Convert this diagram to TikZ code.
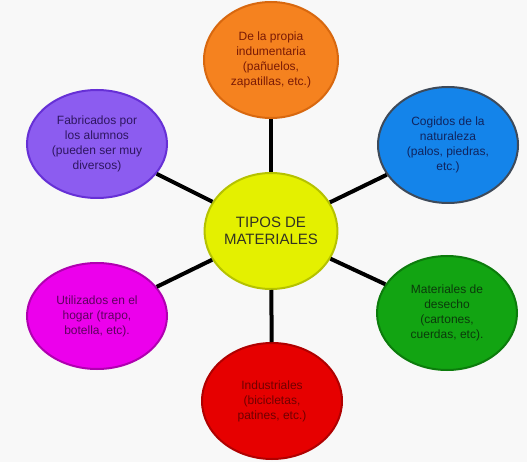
\documentclass[tikz,border=0pt]{standalone}
\usepackage{fontspec}
\setmainfont{Liberation Sans}
\usetikzlibrary{shapes.geometric}
\definecolor{bgcol}{HTML}{F8F8F8}
\definecolor{yelf}{HTML}{E4F000}
\definecolor{yeld}{HTML}{B5C200}
\definecolor{yelt}{HTML}{333322}
\definecolor{oraf}{HTML}{F5821F}
\definecolor{orad}{HTML}{D8680F}
\definecolor{orat}{HTML}{7A1A05}
\definecolor{bluf}{HTML}{1484EA}
\definecolor{blud}{HTML}{3E4A5A}
\definecolor{blut}{HTML}{10245E}
\definecolor{grnf}{HTML}{12A412}
\definecolor{grnd}{HTML}{0C7C0C}
\definecolor{grnt}{HTML}{0B3A0B}
\definecolor{purf}{HTML}{8C5CF0}
\definecolor{purd}{HTML}{6630D6}
\definecolor{purt}{HTML}{2E1660}
\definecolor{magf}{HTML}{EC00EC}
\definecolor{magd}{HTML}{B000B0}
\definecolor{magt}{HTML}{5E0060}
\definecolor{redf}{HTML}{E60000}
\definecolor{redd}{HTML}{B00000}
\definecolor{redt}{HTML}{700000}
\begin{document}
\begin{tikzpicture}[x=1pt,y=-1pt,
  bubble/.style={ellipse, draw, line width=2pt, inner sep=0pt, align=center,
    font=\fontsize{12}{15}\selectfont},
  link/.style={line width=4pt, draw=black}]
\fill[bgcol] (0,0) rectangle (527,462);
\useasboundingbox (0,0) rectangle (527,462);
\node[bubble, fill=yelf, draw=yeld, text=yelt, minimum width=132pt, minimum height=116pt,
  font=\fontsize{15}{17}\selectfont] (c) at (271,231) {TIPOS DE\\MATERIALES};
\node[bubble, fill=oraf, draw=orad, text=orat, minimum width=134pt, minimum height=116pt]
  (o) at (271,60) {De la propia\\indumentaria\\(pañuelos,\\zapatillas, etc.)};
\node[bubble, fill=bluf, draw=blud, text=blut, minimum width=140pt, minimum height=116pt]
  (b) at (448,145) {Cogidos de la\\naturaleza\\(palos, piedras,\\etc.)};
\node[bubble, fill=grnf, draw=grnd, text=grnt, minimum width=140pt, minimum height=114pt]
  (g) at (447,313) {Materiales de\\desecho\\(cartones,\\cuerdas, etc).};
\node[bubble, fill=purf, draw=purd, text=purt, minimum width=140pt, minimum height=108pt]
  (p) at (97,144) {Fabricados por\\los alumnos\\(pueden ser muy\\diversos)};
\node[bubble, fill=magf, draw=magd, text=magt, minimum width=140pt, minimum height=106pt]
  (m) at (97,316) {Utilizados en el\\hogar (trapo,\\botella, etc).};
\node[bubble, fill=redf, draw=redd, text=redt, minimum width=140pt, minimum height=116pt]
  (r) at (272,401) {Industriales\\(bicicletas,\\patines, etc.)};
\foreach \n in {o,b,g,p,m,r} \draw[link] (c) -- (\n);
\end{tikzpicture}
\end{document}
